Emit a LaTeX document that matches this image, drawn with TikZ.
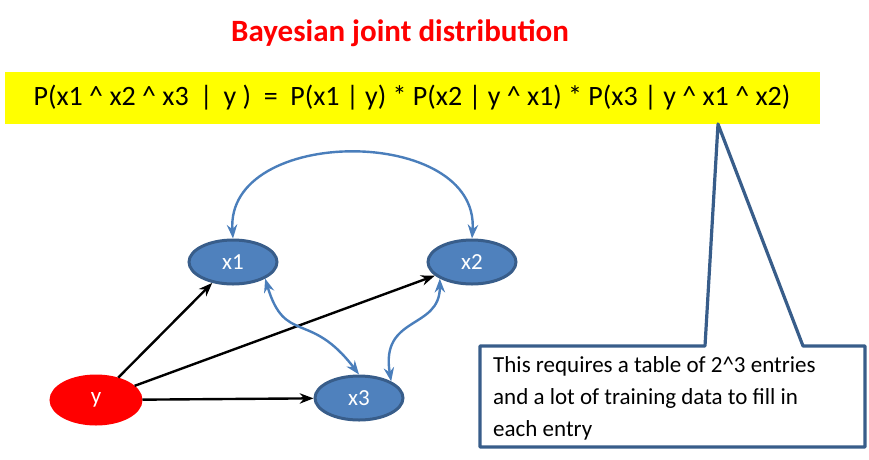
\documentclass[tikz,border=0pt]{standalone}
\usepackage{fontspec}
\setmainfont{Carlito}
\usetikzlibrary{arrows.meta,shapes.geometric}
\definecolor{nodeblue}{RGB}{79,129,189}
\definecolor{edgeblue}{RGB}{56,93,138}
\definecolor{linkblue}{RGB}{74,126,187}
\definecolor{bartext}{RGB}{255,255,0}
\begin{document}
\begin{tikzpicture}[x=1pt,y=-1pt,>=Stealth,
  var/.style={ellipse,draw=edgeblue,line width=3pt,fill=nodeblue,text=white,
    minimum width=88pt,minimum height=44pt,inner sep=0pt,font=\fontsize{23}{26}\selectfont},
  dep/.style={->,black,line width=2.4pt},
  link/.style={<->,linkblue,line width=2.4pt}]
  % Frame
  \useasboundingbox (0,0) rectangle (869,459);
  %
  % Title and formula
  \node[text=red,font=\bfseries\fontsize{31}{36}\selectfont] (title) at (400,33) {Bayesian joint distribution};
  \node[fill=bartext,minimum width=815pt,minimum height=52pt,inner sep=0pt,
    font=\fontsize{28}{32}\selectfont] (formula) at (412,98)
    {P(x1 \^{} x2 \^{} x3 \,|\, y )\ \ =\ \ P(x1 | y) * P(x2 | y \^{} x1) * P(x3 | y \^{} x1 \^{} x2)};
  %
  % Variables
  \node[var] (x1) at (233,262) {x1};
  \node[var] (x2) at (472,262) {x2};
  \node[var] (x3) at (359,398) {x3};
  \node[var,draw=red,fill=red,minimum width=90pt,minimum height=48pt] (y) at (96,400) {y};
  %
  % Dependencies
  \draw[dep] (y) -- (x1);
  \draw[dep] (y) -- (x2);
  \draw[dep] (y) -- (x3);
  \draw[link] (x1.north) .. controls (225,125) and (480,125) .. (x2.north);
  \draw[link] (x1.south east) .. controls (285,345) and (310,310) .. (x3.north);
  \draw[link] (x2.south west) .. controls (440,330) and (380,315) .. (x3.north east);
  %
  % Callout
  \coordinate (tip) at (718,124);
  \draw[edgeblue,line width=3.2pt,fill=white,line join=round]
    (480,346) -- (705,346) -- (tip) -- (803,346) -- (865,346) -- (865,447)
    -- (480,447) -- cycle;
  \node[align=left,anchor=north west,inner sep=0pt,font=\fontsize{23}{32}\selectfont] (note) at (493,356)
    {This requires a table of 2\^{}3 entries\\and a lot of training data to fill in\\each entry};
\end{tikzpicture}
\end{document}
